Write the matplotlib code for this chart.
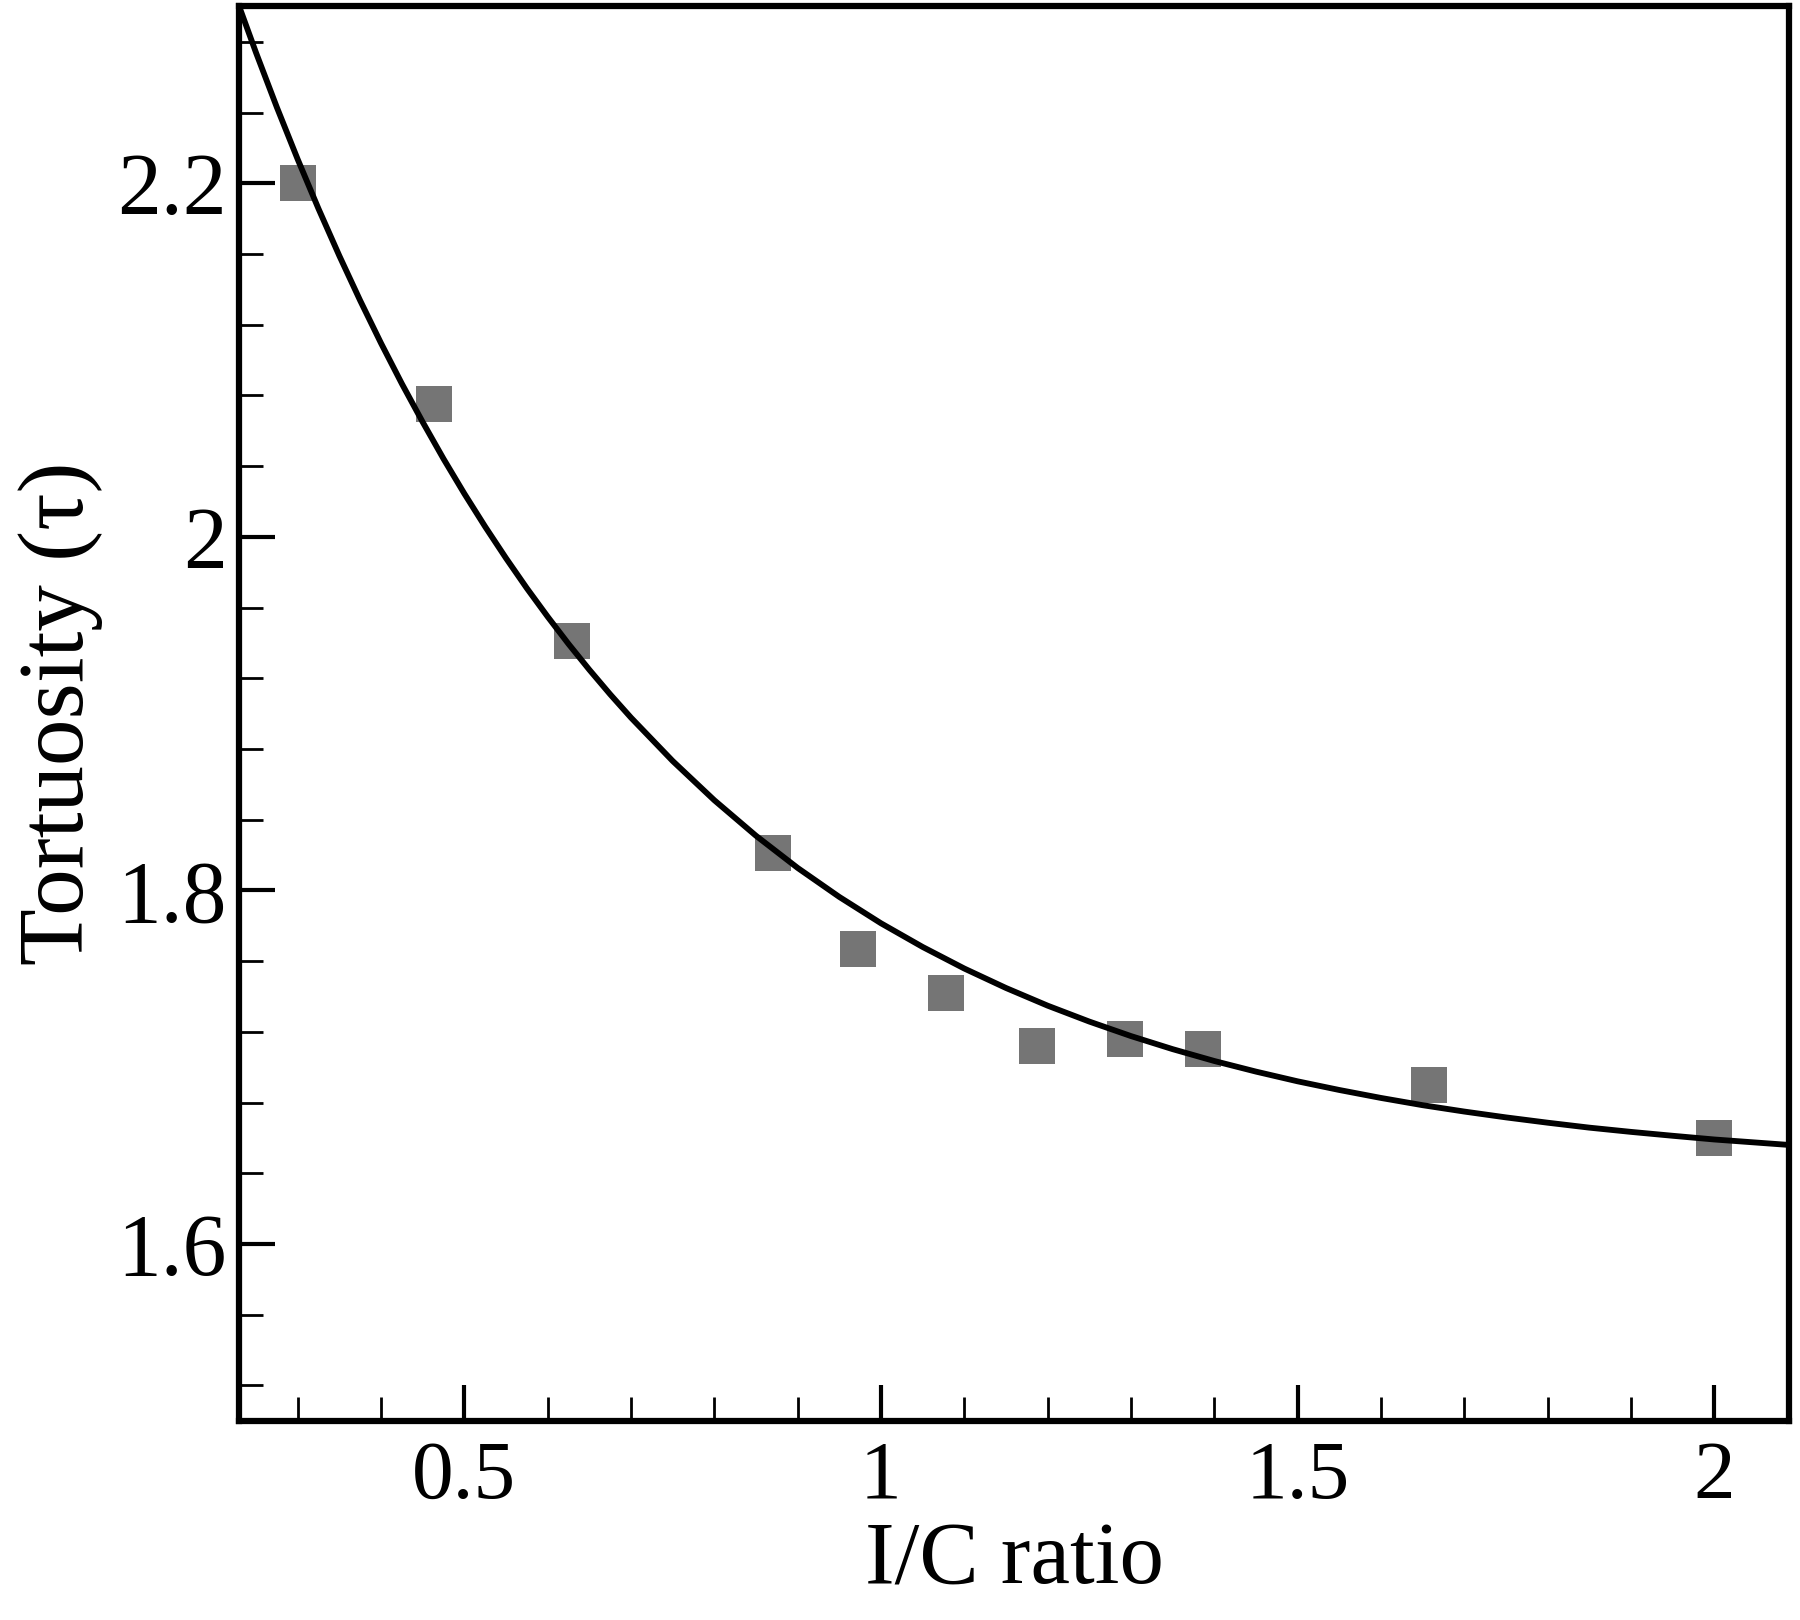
import matplotlib
matplotlib.use("Agg")
import matplotlib.pyplot as plt
from matplotlib.ticker import MultipleLocator

# measured points (grey squares)
ic_ratio = [0.30, 0.463, 0.629, 0.870, 0.972, 1.078, 1.187, 1.293, 1.387, 1.658, 2.0]
tortuosity = [2.200, 2.075, 1.941, 1.821, 1.767, 1.742, 1.712, 1.716, 1.710, 1.690, 1.660]

# fitted curve
fit_x = [0.23, 0.25, 0.275, 0.30, 0.325, 0.35, 0.375, 0.40, 0.425, 0.45, 0.475,
         0.50, 0.525, 0.55, 0.575, 0.60, 0.625, 0.65, 0.675, 0.70, 0.75, 0.80,
         0.85, 0.90, 0.95, 1.00, 1.05, 1.10, 1.15, 1.20, 1.25, 1.30, 1.35, 1.40,
         1.45, 1.50, 1.55, 1.60, 1.65, 1.70, 1.75, 1.80, 1.85, 1.90, 1.95, 2.00,
         2.09]
fit_y = [2.2997, 2.2738, 2.2429, 2.2135, 2.1855, 2.1589, 2.1336, 2.1095, 2.0866,
         2.0649, 2.0441, 2.0244, 2.0057, 1.9879, 1.9709, 1.9548, 1.9394, 1.9248,
         1.9109, 1.8977, 1.8732, 1.8510, 1.8309, 1.8127, 1.7963, 1.7814, 1.7680,
         1.7558, 1.7448, 1.7348, 1.7258, 1.7176, 1.7102, 1.7035, 1.6975, 1.6920,
         1.6871, 1.6826, 1.6785, 1.6749, 1.6716, 1.6686, 1.6658, 1.6634, 1.6612,
         1.6591, 1.6560]

plt.rcParams["font.family"] = ["Liberation Serif", "DejaVu Serif"]

fig = plt.figure(figsize=(18, 16.2), dpi=100)
ax = fig.add_axes([0.133, 0.123, 0.861, 0.873])

ax.plot(fit_x, fit_y, color="black", linewidth=4.2, zorder=3,
        solid_joinstyle="round")
ax.plot(ic_ratio, tortuosity, linestyle="none", marker="s", markersize=26,
        color="#757575", markeredgewidth=0, zorder=2)

ax.set_xlim(0.23, 2.09)
ax.set_ylim(1.5, 2.3)
ax.xaxis.set_major_locator(MultipleLocator(0.5))
ax.xaxis.set_minor_locator(MultipleLocator(0.1))
ax.yaxis.set_major_locator(MultipleLocator(0.2))
ax.yaxis.set_minor_locator(MultipleLocator(0.04))
ax.xaxis.set_major_formatter(plt.FuncFormatter(lambda v, p: f"{v:g}"))
ax.yaxis.set_major_formatter(plt.FuncFormatter(lambda v, p: f"{v:g}"))

ax.tick_params(which="both", direction="in", top=False, right=False)
ax.tick_params(which="major", length=26, width=3, pad=14)
ax.tick_params(which="minor", length=17, width=2)
ax.tick_params(axis="x", which="major", labelsize=60)
ax.tick_params(axis="y", which="major", labelsize=63, pad=9)

for spine in ax.spines.values():
    spine.set_linewidth(4.5)

ax.set_xlabel("I/C ratio", fontsize=64, labelpad=4)
ax.set_ylabel("Tortuosity (τ)", fontsize=67, labelpad=10)

fig.savefig("out.png", dpi=100)
